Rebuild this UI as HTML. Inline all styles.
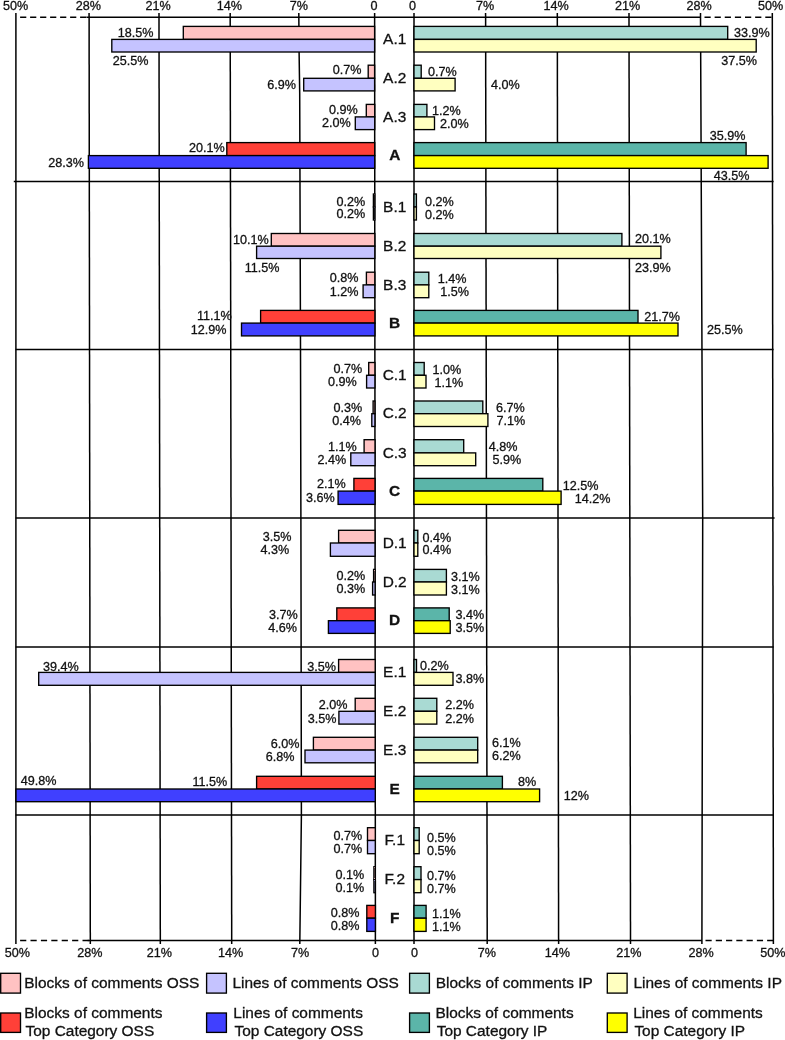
<!DOCTYPE html>
<html lang="en"><head><meta charset="utf-8"><title>Comments chart</title>
<style>html,body{margin:0;padding:0;background:#fff}svg{display:block}text{font-family:"Liberation Sans",Arial,sans-serif;fill:#111;stroke:#111;stroke-width:.3px}.v{font-size:12.6px}.c{font-size:15.45px}.b{font-size:15.45px;font-weight:bold}.g line,.g path{stroke:#000;stroke-width:1.5;fill:none}.bar rect{stroke:#000;stroke-width:1.35}</style></head><body>
<svg width="785" height="1040" viewBox="0 0 785 1040">
<rect width="785" height="1040" fill="#fff"/>
<g class="g">
<line x1="15.90" y1="13.0" x2="15.90" y2="944.0"/>
<line x1="89.09" y1="13.0" x2="90.30" y2="944.0"/>
<line x1="158.99" y1="13.0" x2="160.31" y2="944.0"/>
<line x1="230.19" y1="13.0" x2="231.71" y2="944.0"/>
<path d="M298.8 13.0 L299.1 52.0 L299.7 93.0 L300.5 349.0 L300.9 518.0 L301.4 815.0 L299.8 944.0"/>
<line x1="374.60" y1="13.0" x2="375.40" y2="944.0"/>
<line x1="414.00" y1="13.0" x2="414.00" y2="944.0"/>
<line x1="485.59" y1="13.0" x2="487.21" y2="944.0"/>
<line x1="557.29" y1="13.0" x2="558.61" y2="944.0"/>
<line x1="628.99" y1="13.0" x2="630.51" y2="944.0"/>
<path d="M700.5 13.0 L702.7 518.0 L701.9 944.0"/>
<line x1="772.29" y1="13.0" x2="773.40" y2="944.0"/>
<line x1="86.5" y1="17.3" x2="700.5" y2="17.3"/>
<line x1="20.1" y1="17.3" x2="89.1" y2="17.3" stroke-dasharray="6.2 3.80"/>
<line x1="704.5" y1="17.3" x2="772.3" y2="17.3" stroke-dasharray="6.2 3.93"/>
<line x1="87.7" y1="940.4" x2="701.9" y2="940.4"/>
<line x1="20.1" y1="940.4" x2="90.3" y2="940.4" stroke-dasharray="6.2 4.20"/>
<line x1="705.5" y1="940.4" x2="773.4" y2="940.4" stroke-dasharray="6.2 4.07"/>
<line x1="13.8" y1="181.6" x2="773.6" y2="181.6"/>
<line x1="15.6" y1="349.4" x2="773.6" y2="349.4"/>
<line x1="15.6" y1="517.9" x2="774.6" y2="517.9"/>
<line x1="15.6" y1="646.9" x2="773.6" y2="646.9"/>
<line x1="15.6" y1="815.0" x2="773.6" y2="815.0"/>
</g>
<g class="bar">
<rect x="183.3" y="26.4" width="191.3" height="13.0" fill="#ffc2c2"/>
<rect x="111.8" y="39.4" width="262.8" height="12.6" fill="#c5c3ff"/>
<rect x="414.0" y="26.4" width="313.7" height="13.0" fill="#a9dad3"/>
<rect x="414.0" y="39.4" width="342.2" height="12.6" fill="#ffffc0"/>
<rect x="368.2" y="65.2" width="6.4" height="13.1" fill="#ffc2c2"/>
<rect x="303.7" y="78.3" width="70.9" height="12.6" fill="#c5c3ff"/>
<rect x="414.0" y="65.2" width="7.2" height="13.1" fill="#a9dad3"/>
<rect x="414.0" y="78.3" width="41.1" height="12.6" fill="#ffffc0"/>
<rect x="366.3" y="104.4" width="8.4" height="12.5" fill="#ffc2c2"/>
<rect x="355.3" y="116.9" width="19.4" height="12.7" fill="#c5c3ff"/>
<rect x="414.0" y="104.4" width="12.9" height="12.5" fill="#a9dad3"/>
<rect x="414.0" y="116.9" width="20.5" height="12.7" fill="#ffffc0"/>
<rect x="226.8" y="142.6" width="147.9" height="13.0" fill="#ff4038"/>
<rect x="88.4" y="155.6" width="286.3" height="12.7" fill="#4040ff"/>
<rect x="414.0" y="142.6" width="332.1" height="13.0" fill="#5bb5a9"/>
<rect x="414.0" y="155.6" width="354.1" height="12.7" fill="#ffff00"/>
<rect x="373.4" y="194.0" width="1.4" height="13.0" fill="#ffc2c2"/>
<rect x="373.4" y="207.0" width="1.4" height="13.0" fill="#c5c3ff"/>
<rect x="414.0" y="194.0" width="2.4" height="13.0" fill="#a9dad3"/>
<rect x="414.0" y="207.0" width="2.4" height="13.0" fill="#ffffc0"/>
<rect x="271.3" y="233.5" width="103.5" height="12.7" fill="#ffc2c2"/>
<rect x="256.6" y="246.2" width="118.2" height="12.3" fill="#c5c3ff"/>
<rect x="414.0" y="233.5" width="207.9" height="12.7" fill="#a9dad3"/>
<rect x="414.0" y="246.2" width="246.9" height="12.3" fill="#ffffc0"/>
<rect x="366.4" y="272.2" width="8.4" height="12.7" fill="#ffc2c2"/>
<rect x="363.1" y="284.9" width="11.7" height="12.8" fill="#c5c3ff"/>
<rect x="414.0" y="272.2" width="14.8" height="12.7" fill="#a9dad3"/>
<rect x="414.0" y="284.9" width="14.8" height="12.8" fill="#ffffc0"/>
<rect x="260.6" y="310.4" width="114.3" height="12.7" fill="#ff4038"/>
<rect x="241.5" y="323.1" width="133.4" height="12.8" fill="#4040ff"/>
<rect x="414.0" y="310.4" width="224.0" height="12.7" fill="#5bb5a9"/>
<rect x="414.0" y="323.1" width="264.0" height="12.8" fill="#ffff00"/>
<rect x="368.7" y="362.5" width="6.2" height="12.8" fill="#ffc2c2"/>
<rect x="366.6" y="375.3" width="8.3" height="12.7" fill="#c5c3ff"/>
<rect x="414.0" y="362.5" width="10.2" height="12.8" fill="#a9dad3"/>
<rect x="414.0" y="375.3" width="12.0" height="12.7" fill="#ffffc0"/>
<rect x="373.1" y="401.0" width="1.8" height="12.7" fill="#ffc2c2"/>
<rect x="371.8" y="413.7" width="3.1" height="12.8" fill="#c5c3ff"/>
<rect x="414.0" y="401.0" width="68.8" height="12.7" fill="#a9dad3"/>
<rect x="414.0" y="413.7" width="73.9" height="12.8" fill="#ffffc0"/>
<rect x="364.1" y="439.7" width="10.9" height="13.2" fill="#ffc2c2"/>
<rect x="350.8" y="452.9" width="24.2" height="12.8" fill="#c5c3ff"/>
<rect x="414.0" y="439.7" width="49.7" height="13.2" fill="#a9dad3"/>
<rect x="414.0" y="452.9" width="61.7" height="12.8" fill="#ffffc0"/>
<rect x="353.9" y="478.4" width="21.1" height="12.7" fill="#ff4038"/>
<rect x="338.1" y="491.1" width="36.9" height="13.3" fill="#4040ff"/>
<rect x="414.0" y="478.4" width="128.8" height="12.7" fill="#5bb5a9"/>
<rect x="414.0" y="491.1" width="147.1" height="13.3" fill="#ffff00"/>
<rect x="338.6" y="530.3" width="36.4" height="12.7" fill="#ffc2c2"/>
<rect x="330.4" y="543.0" width="44.6" height="13.3" fill="#c5c3ff"/>
<rect x="414.0" y="530.3" width="3.8" height="12.7" fill="#a9dad3"/>
<rect x="414.0" y="543.0" width="3.8" height="13.3" fill="#ffffc0"/>
<rect x="373.6" y="569.4" width="1.5" height="12.6" fill="#ffc2c2"/>
<rect x="372.6" y="582.0" width="2.5" height="13.0" fill="#c5c3ff"/>
<rect x="414.0" y="569.4" width="32.4" height="12.6" fill="#a9dad3"/>
<rect x="414.0" y="582.0" width="32.4" height="13.0" fill="#ffffc0"/>
<rect x="336.8" y="607.9" width="38.3" height="12.8" fill="#ff4038"/>
<rect x="328.4" y="620.7" width="46.7" height="12.7" fill="#4040ff"/>
<rect x="414.0" y="607.9" width="35.2" height="12.8" fill="#5bb5a9"/>
<rect x="414.0" y="620.7" width="36.2" height="12.7" fill="#ffff00"/>
<rect x="338.6" y="659.5" width="36.6" height="12.9" fill="#ffc2c2"/>
<rect x="38.7" y="672.4" width="336.5" height="12.9" fill="#c5c3ff"/>
<rect x="414.0" y="659.5" width="2.5" height="12.9" fill="#a9dad3"/>
<rect x="414.0" y="672.4" width="39.0" height="12.9" fill="#ffffc0"/>
<rect x="355.2" y="698.3" width="20.0" height="13.0" fill="#ffc2c2"/>
<rect x="338.9" y="711.3" width="36.3" height="12.8" fill="#c5c3ff"/>
<rect x="414.0" y="698.3" width="22.8" height="13.0" fill="#a9dad3"/>
<rect x="414.0" y="711.3" width="22.8" height="12.8" fill="#ffffc0"/>
<rect x="313.4" y="737.3" width="61.8" height="12.8" fill="#ffc2c2"/>
<rect x="305.0" y="750.1" width="70.2" height="12.7" fill="#c5c3ff"/>
<rect x="414.0" y="737.3" width="63.7" height="12.8" fill="#a9dad3"/>
<rect x="414.0" y="750.1" width="63.7" height="12.7" fill="#ffffc0"/>
<rect x="256.6" y="776.3" width="118.7" height="12.7" fill="#ff4038"/>
<rect x="16.0" y="789.0" width="359.3" height="12.7" fill="#4040ff"/>
<rect x="414.0" y="776.3" width="88.4" height="12.7" fill="#5bb5a9"/>
<rect x="414.0" y="789.0" width="125.6" height="12.7" fill="#ffff00"/>
<rect x="367.5" y="827.7" width="7.8" height="12.8" fill="#ffc2c2"/>
<rect x="367.5" y="840.5" width="7.8" height="13.2" fill="#c5c3ff"/>
<rect x="414.0" y="827.7" width="5.2" height="12.8" fill="#a9dad3"/>
<rect x="414.0" y="840.5" width="5.2" height="13.2" fill="#ffffc0"/>
<rect x="373.9" y="866.7" width="1.4" height="12.9" fill="#ffc2c2"/>
<rect x="373.9" y="879.6" width="1.4" height="13.1" fill="#c5c3ff"/>
<rect x="414.0" y="866.7" width="7.0" height="12.9" fill="#a9dad3"/>
<rect x="414.0" y="879.6" width="7.0" height="13.1" fill="#ffffc0"/>
<rect x="366.8" y="905.4" width="8.6" height="12.8" fill="#ff4038"/>
<rect x="366.8" y="918.2" width="8.6" height="13.2" fill="#4040ff"/>
<rect x="414.0" y="905.4" width="12.1" height="12.8" fill="#5bb5a9"/>
<rect x="414.0" y="918.2" width="12.1" height="13.2" fill="#ffff00"/>
</g>
<g text-anchor="middle">
<text class="c" x="394.7" y="44.0">A.1</text>
<text class="c" x="394.7" y="82.9">A.2</text>
<text class="c" x="394.7" y="121.5">A.3</text>
<text class="b" x="394.8" y="160.2">A</text>
<text class="c" x="394.7" y="211.6">B.1</text>
<text class="c" x="394.7" y="250.8">B.2</text>
<text class="c" x="394.7" y="289.5">B.3</text>
<text class="b" x="394.6" y="327.7">B</text>
<text class="c" x="394.7" y="379.9">C.1</text>
<text class="c" x="394.7" y="418.3">C.2</text>
<text class="c" x="394.7" y="457.5">C.3</text>
<text class="b" x="394.7" y="495.7">C</text>
<text class="c" x="394.7" y="547.6">D.1</text>
<text class="c" x="394.7" y="586.6">D.2</text>
<text class="b" x="394.6" y="625.3">D</text>
<text class="c" x="394.7" y="677.0">E.1</text>
<text class="c" x="394.7" y="715.9">E.2</text>
<text class="c" x="394.7" y="754.7">E.3</text>
<text class="b" x="394.6" y="793.6">E</text>
<text class="c" x="394.7" y="845.1">F.1</text>
<text class="c" x="394.7" y="884.2">F.2</text>
<text class="b" x="394.6" y="922.8">F</text>
</g>
<g class="v">
<text x="117.8" y="37.2">18.5%</text>
<text x="112.7" y="64.8">25.5%</text>
<text x="332.7" y="74.2">0.7%</text>
<text x="267.2" y="88.7">6.9%</text>
<text x="328.9" y="114.4">0.9%</text>
<text x="322.0" y="127.0">2.0%</text>
<text x="188.9" y="152.4">20.1%</text>
<text x="48.3" y="166.5">28.3%</text>
<text x="336.5" y="206.1">0.2%</text>
<text x="336.5" y="218.3">0.2%</text>
<text x="233.0" y="243.8">10.1%</text>
<text x="244.7" y="272.2">11.5%</text>
<text x="329.7" y="282.4">0.8%</text>
<text x="329.7" y="295.7">1.2%</text>
<text x="196.9" y="320.4">11.1%</text>
<text x="190.8" y="333.9">12.9%</text>
<text x="333.5" y="372.8">0.7%</text>
<text x="328.1" y="386.0">0.9%</text>
<text x="333.5" y="411.5">0.3%</text>
<text x="332.2" y="425.0">0.4%</text>
<text x="328.1" y="450.5">1.1%</text>
<text x="317.4" y="464.2">2.4%</text>
<text x="316.9" y="488.4">2.1%</text>
<text x="306.0" y="502.4">3.6%</text>
<text x="262.7" y="541.1">3.5%</text>
<text x="260.6" y="553.8">4.3%</text>
<text x="336.5" y="579.8">0.2%</text>
<text x="336.5" y="593.3">0.3%</text>
<text x="269.0" y="618.7">3.7%</text>
<text x="268.3" y="631.9">4.6%</text>
<text x="42.9" y="670.7">39.4%</text>
<text x="307.2" y="670.9">3.5%</text>
<text x="318.7" y="709.4">2.0%</text>
<text x="307.7" y="722.6">3.5%</text>
<text x="270.8" y="747.6">6.0%</text>
<text x="265.7" y="760.8">6.8%</text>
<text x="20.7" y="785.4">49.8%</text>
<text x="192.5" y="786.2">11.5%</text>
<text x="333.6" y="839.8">0.7%</text>
<text x="333.6" y="852.5">0.7%</text>
<text x="335.4" y="879.3">0.1%</text>
<text x="335.4" y="892.0">0.1%</text>
<text x="330.8" y="917.0">0.8%</text>
<text x="330.8" y="930.2">0.8%</text>
<text x="734.0" y="37.4">33.9%</text>
<text x="721.3" y="65.2">37.5%</text>
<text x="428.0" y="75.8">0.7%</text>
<text x="491.1" y="89.1">4.0%</text>
<text x="432.1" y="115.2">1.2%</text>
<text x="440.1" y="127.9">2.0%</text>
<text x="709.8" y="139.9">35.9%</text>
<text x="713.8" y="180.0">43.5%</text>
<text x="425.0" y="206.1">0.2%</text>
<text x="425.0" y="218.8">0.2%</text>
<text x="635.0" y="243.0">20.1%</text>
<text x="635.0" y="272.3">23.9%</text>
<text x="437.7" y="283.0">1.4%</text>
<text x="440.3" y="296.2">1.5%</text>
<text x="644.2" y="320.7">21.7%</text>
<text x="707.1" y="334.4">25.5%</text>
<text x="432.6" y="373.5">1.0%</text>
<text x="434.4" y="386.8">1.1%</text>
<text x="496.1" y="411.5">6.7%</text>
<text x="496.6" y="425.0">7.1%</text>
<text x="488.8" y="451.0">4.8%</text>
<text x="492.4" y="464.2">5.9%</text>
<text x="562.7" y="489.7">12.5%</text>
<text x="574.7" y="502.7">14.2%</text>
<text x="422.4" y="542.3">0.4%</text>
<text x="422.4" y="554.3">0.4%</text>
<text x="451.0" y="580.5">3.1%</text>
<text x="451.0" y="593.8">3.1%</text>
<text x="455.5" y="619.2">3.4%</text>
<text x="455.5" y="632.2">3.5%</text>
<text x="419.9" y="670.4">0.2%</text>
<text x="455.5" y="683.2">3.8%</text>
<text x="445.2" y="709.4">2.2%</text>
<text x="445.2" y="723.1">2.2%</text>
<text x="492.0" y="747.3">6.1%</text>
<text x="492.0" y="760.3">6.2%</text>
<text x="517.9" y="786.2">8%</text>
<text x="563.8" y="799.5">12%</text>
<text x="426.9" y="842.3">0.5%</text>
<text x="426.9" y="855.1">0.5%</text>
<text x="426.9" y="880.0">0.7%</text>
<text x="426.9" y="893.3">0.7%</text>
<text x="432.0" y="918.3">1.1%</text>
<text x="432.0" y="931.0">1.1%</text>
<text x="2.9" y="9.6">50%</text>
<text x="4.8" y="956.9">50%</text>
<text x="75.8" y="9.6">28%</text>
<text x="77.3" y="956.9">28%</text>
<text x="145.6" y="9.6">21%</text>
<text x="146.8" y="956.9">21%</text>
<text x="216.8" y="9.6">14%</text>
<text x="217.9" y="956.9">14%</text>
<text x="289.8" y="9.6">7%</text>
<text x="291.1" y="956.9">7%</text>
<text x="370.6" y="9.6">0</text>
<text x="371.9" y="956.9">0</text>
<text x="409.0" y="9.6">0</text>
<text x="411.0" y="956.9">0</text>
<text x="476.1" y="9.6">7%</text>
<text x="477.8" y="956.9">7%</text>
<text x="543.4" y="9.6">14%</text>
<text x="544.7" y="956.9">14%</text>
<text x="615.1" y="9.6">21%</text>
<text x="616.3" y="956.9">21%</text>
<text x="686.5" y="9.6">28%</text>
<text x="688.6" y="956.9">28%</text>
<text x="758.1" y="9.6">50%</text>
<text x="760.3" y="956.9">50%</text>
</g>
<g class="bar">
<rect x="0.7" y="973.3" width="19.8" height="19.8" fill="#ffc2c2"/>
<rect x="0.7" y="1013.0" width="19.8" height="19.4" fill="#ff4038"/>
<rect x="206.6" y="973.3" width="19.8" height="19.8" fill="#c5c3ff"/>
<rect x="206.6" y="1013.0" width="19.8" height="19.4" fill="#4040ff"/>
<rect x="409.6" y="973.3" width="19.8" height="19.8" fill="#a9dad3"/>
<rect x="409.6" y="1013.0" width="19.8" height="19.4" fill="#5bb5a9"/>
<rect x="607.3" y="973.3" width="19.8" height="19.8" fill="#ffffc0"/>
<rect x="607.3" y="1013.0" width="19.8" height="19.4" fill="#ffff00"/>
</g>
<g class="c">
<text x="24.3" y="988.0">Blocks of comments OSS</text>
<text x="24.3" y="1018.0">Blocks of comments</text>
<text x="25.5" y="1036.0">Top Category OSS</text>
<text x="232.4" y="988.0">Lines of comments OSS</text>
<text x="233.3" y="1018.0">Lines of comments</text>
<text x="234.5" y="1036.0">Top Category OSS</text>
<text x="435.8" y="988.0">Blocks of comments IP</text>
<text x="435.5" y="1018.0">Blocks of comments</text>
<text x="436.7" y="1036.0">Top Category IP</text>
<text x="633.5" y="988.0">Lines of comments IP</text>
<text x="633.2" y="1018.0">Lines of comments</text>
<text x="634.4" y="1036.0">Top Category IP</text>
</g>
</svg></body></html>
